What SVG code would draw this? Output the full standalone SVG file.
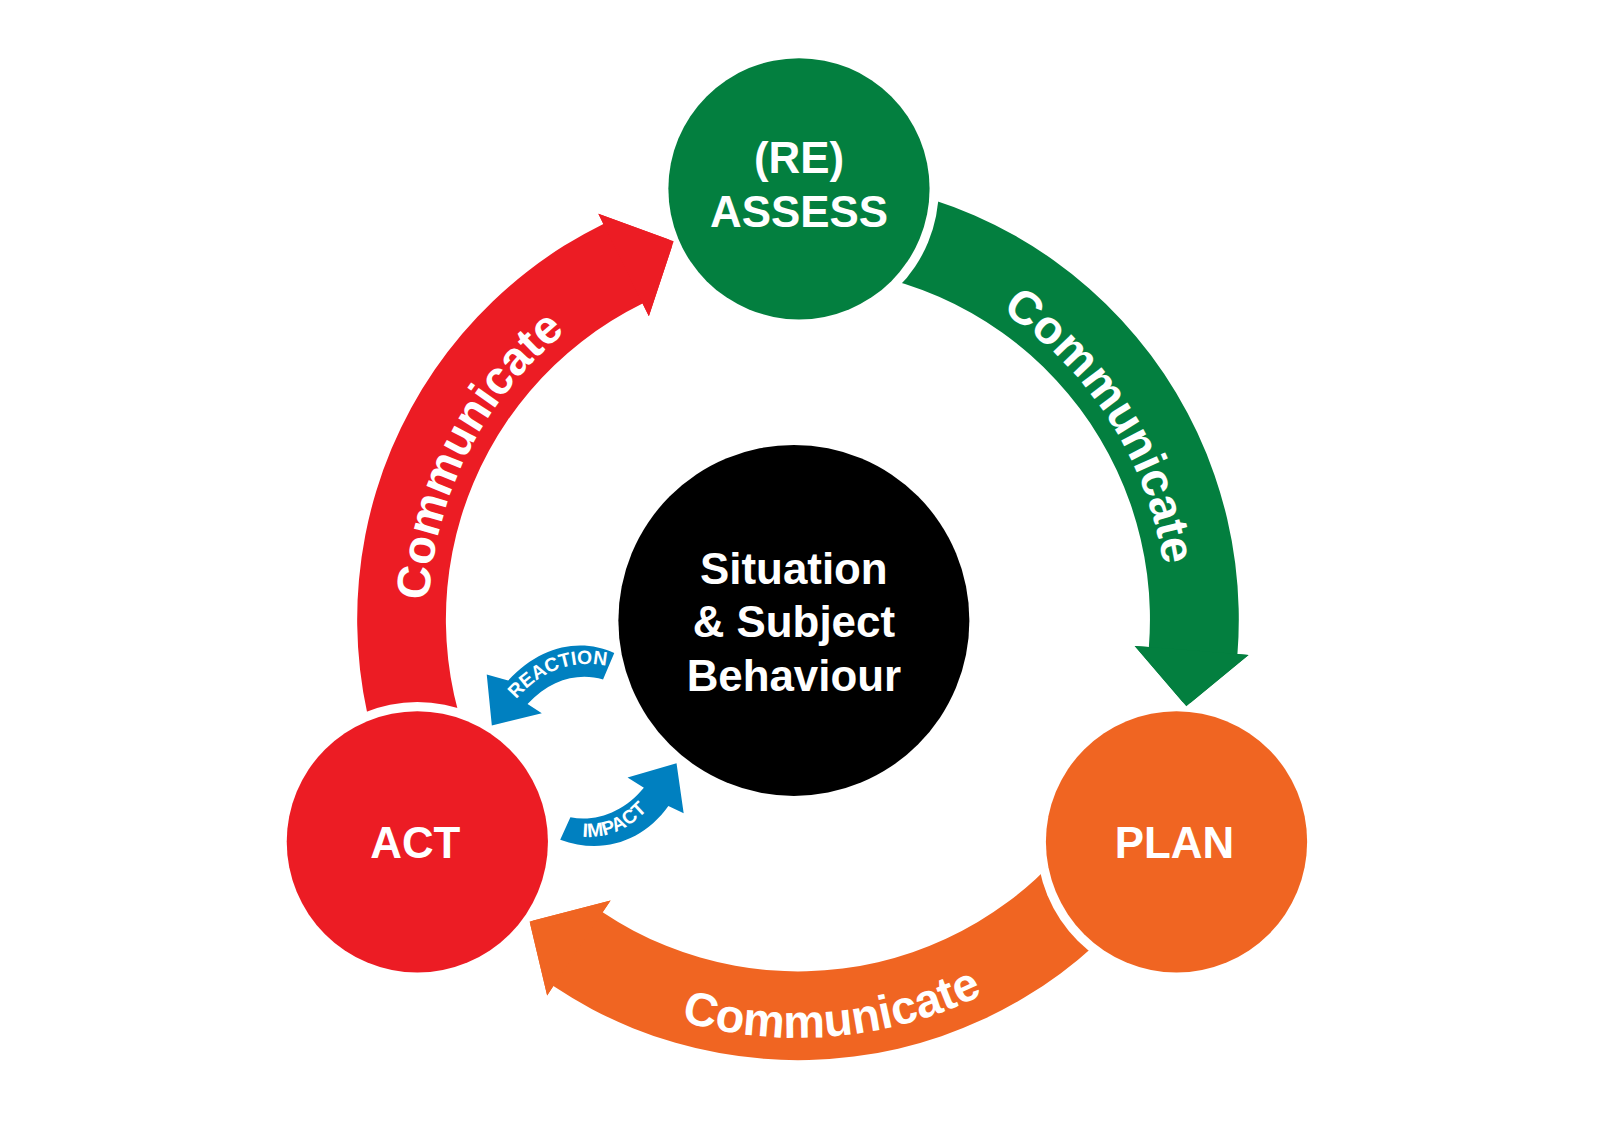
<svg xmlns="http://www.w3.org/2000/svg" width="1600" height="1132" viewBox="0 0 1600 1132">
<style>
.lbl{font-family:"Liberation Sans",Arial,sans-serif;font-weight:bold;fill:#fff}
.big{font-size:46px}
.node{font-size:43px;text-anchor:middle}
.small{font-size:19px}
.gap{fill:#fff}
</style>
<defs>
<path id="tg" d="M 844.9,250.5 A 362 362 0 0 1 1131.7,700.7"/>
<path id="tr" d="M 441.8,730.8 A 362 362 0 0 1 682.2,259"/>
<path id="to" d="M 518.5,921.1 A 410 410 0 0 0 1096.1,870.5"/>
<path id="trea" d="M 502,690 C 528,656 565,644 600,654"/>
<path id="timp" d="M 556,817 C 590,827 621,813 644,782"/>
</defs>
<rect width="1600" height="1132" fill="#fff"/>
<g transform="scale(1.0204)">
<g id="connectors">
<path fill="#037F3F" d="M 782,175 A 432 432 0 0 1 1212.7,640.9 L 1223.6,641.8 L 1162.6,692.1 L 1112,633 L 1125.9,634.1 A 345 345 0 0 0 782,262 Z"/>
<path fill="#F06522" d="M 1156.1,823 A 432 432 0 0 1 542.3,966.4 L 536.2,975.6 L 519,903 L 598.4,882.4 L 590.6,894 A 345 345 0 0 0 1080.8,779.5 Z"/>
<path fill="#EC1C24" d="M 407.9,823 A 432 432 0 0 1 591.3,219.4 L 586.4,209.5 L 660.2,236.5 L 635.9,310 L 629.7,297.4 A 345 345 0 0 0 483.2,779.5 Z"/>
<circle class="gap" cx="783" cy="185" r="137"/>
<circle class="gap" cx="1153" cy="825" r="137"/>
<circle class="gap" cx="409" cy="825" r="137"/>
<path fill="#037F3F" d="M 1212.7,640.9 L 1223.6,641.8 L 1162.6,692.1 L 1112,633 L 1125.9,634.1 Z"/>
<path fill="#F06522" d="M 542.3,966.4 L 536.2,975.6 L 519,903 L 598.4,882.4 L 590.6,894 Z"/>
<path fill="#EC1C24" d="M 591.3,219.4 L 586.4,209.5 L 660.2,236.5 L 635.9,310 L 629.7,297.4 Z"/>
<text class="lbl big"><textPath href="#tg" startOffset="50%" text-anchor="middle">Communicate</textPath></text>
<text class="lbl big"><textPath href="#tr" startOffset="50%" text-anchor="middle">Communicate</textPath></text>
<text class="lbl big"><textPath href="#to" startOffset="50%" text-anchor="middle">Communicate</textPath></text>
</g>
<g id="assess">
<circle cx="783" cy="185" r="128" fill="#037F3F"/>
<text class="lbl node" x="783" y="170">(RE)</text>
<text class="lbl node" x="783" y="222">ASSESS</text>
</g>
<g id="plan">
<circle cx="1153" cy="825" r="128" fill="#F06522"/>
<text class="lbl node" x="1151" y="841">PLAN</text>
</g>
<g id="act">
<circle cx="409" cy="825" r="128" fill="#EC1C24"/>
<text class="lbl node" x="407" y="841">ACT</text>
</g>
<g id="center">
<circle cx="778" cy="608" r="172" fill="#000"/>
<text class="lbl node" x="778" y="572">Situation</text>
<text class="lbl node" x="778" y="624">&amp; Subject</text>
<text class="lbl node" x="778" y="677">Behaviour</text>
</g>
<g id="small-connectors">
<path fill="#0080C0" d="M 602,640 C 570,625 530,632 498,667 L 477,661 L 482,711 L 531,699 L 517,690 C 540,665 568,659 591,666 Z"/>
<path fill="#0080C0" d="M 549,823 C 590,838 630,825 655,790 L 670,797 L 663,748 L 615,762 L 631,772 C 612,795 585,806 559,801 Z"/>
<text class="lbl small"><textPath href="#trea" startOffset="50%" text-anchor="middle">REACTION</textPath></text>
<text class="lbl small"><textPath href="#timp" startOffset="50%" text-anchor="middle">IMPACT</textPath></text>
</g>
</g>
</svg>
